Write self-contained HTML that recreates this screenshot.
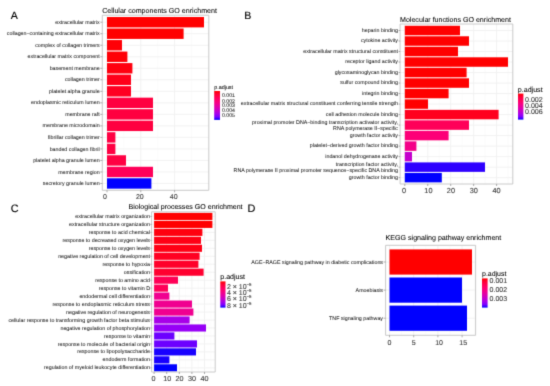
<!DOCTYPE html>
<html><head><meta charset="utf-8"><title>GO enrichment</title><style>html,body{margin:0;padding:0;background:#fff;width:550px;height:386px;overflow:hidden}svg{display:block}</style></head><body><div id="w">
<svg width="550" height="386" viewBox="0 0 550 386" font-family="'Liberation Sans', Arial, sans-serif" stroke-linejoin="round" text-rendering="geometricPrecision">
<defs><filter id="soft" x="0" y="0" width="1" height="1" color-interpolation-filters="sRGB"><feConvolveMatrix order="3" kernelMatrix="1 6 1 6 36 6 1 6 1" divisor="64" edgeMode="duplicate"/></filter></defs>
<g filter="url(#soft)">
<rect width="550" height="386" fill="#fff"/>
<line x1="123.90" y1="15.20" x2="123.90" y2="190.30" stroke="#f8f8f8" stroke-width="0.6"/>
<line x1="157.70" y1="15.20" x2="157.70" y2="190.30" stroke="#f8f8f8" stroke-width="0.6"/>
<line x1="191.50" y1="15.20" x2="191.50" y2="190.30" stroke="#f8f8f8" stroke-width="0.6"/>
<line x1="107.00" y1="15.20" x2="107.00" y2="190.30" stroke="#f1f1f1" stroke-width="0.9"/>
<line x1="140.80" y1="15.20" x2="140.80" y2="190.30" stroke="#f1f1f1" stroke-width="0.9"/>
<line x1="174.60" y1="15.20" x2="174.60" y2="190.30" stroke="#f1f1f1" stroke-width="0.9"/>
<line x1="102.30" y1="22.20" x2="208.80" y2="22.20" stroke="#f1f1f1" stroke-width="0.9"/>
<line x1="102.30" y1="33.72" x2="208.80" y2="33.72" stroke="#f1f1f1" stroke-width="0.9"/>
<line x1="102.30" y1="45.24" x2="208.80" y2="45.24" stroke="#f1f1f1" stroke-width="0.9"/>
<line x1="102.30" y1="56.76" x2="208.80" y2="56.76" stroke="#f1f1f1" stroke-width="0.9"/>
<line x1="102.30" y1="68.28" x2="208.80" y2="68.28" stroke="#f1f1f1" stroke-width="0.9"/>
<line x1="102.30" y1="79.80" x2="208.80" y2="79.80" stroke="#f1f1f1" stroke-width="0.9"/>
<line x1="102.30" y1="91.32" x2="208.80" y2="91.32" stroke="#f1f1f1" stroke-width="0.9"/>
<line x1="102.30" y1="102.84" x2="208.80" y2="102.84" stroke="#f1f1f1" stroke-width="0.9"/>
<line x1="102.30" y1="114.36" x2="208.80" y2="114.36" stroke="#f1f1f1" stroke-width="0.9"/>
<line x1="102.30" y1="125.88" x2="208.80" y2="125.88" stroke="#f1f1f1" stroke-width="0.9"/>
<line x1="102.30" y1="137.40" x2="208.80" y2="137.40" stroke="#f1f1f1" stroke-width="0.9"/>
<line x1="102.30" y1="148.92" x2="208.80" y2="148.92" stroke="#f1f1f1" stroke-width="0.9"/>
<line x1="102.30" y1="160.44" x2="208.80" y2="160.44" stroke="#f1f1f1" stroke-width="0.9"/>
<line x1="102.30" y1="171.96" x2="208.80" y2="171.96" stroke="#f1f1f1" stroke-width="0.9"/>
<line x1="102.30" y1="183.48" x2="208.80" y2="183.48" stroke="#f1f1f1" stroke-width="0.9"/>
<rect x="107.00" y="17.02" width="97.00" height="10.37" fill="#ff0000"/>
<rect x="107.00" y="28.54" width="76.60" height="10.37" fill="#ff0000"/>
<rect x="107.00" y="40.05" width="15.00" height="10.37" fill="#ff0007"/>
<rect x="107.00" y="51.58" width="20.40" height="10.37" fill="#ff0007"/>
<rect x="107.00" y="63.09" width="25.40" height="10.37" fill="#ff000f"/>
<rect x="107.00" y="74.61" width="24.00" height="10.37" fill="#ff001a"/>
<rect x="107.00" y="86.14" width="24.00" height="10.37" fill="#ff0022"/>
<rect x="107.00" y="97.66" width="46.00" height="10.37" fill="#ff0040"/>
<rect x="107.00" y="109.17" width="46.00" height="10.37" fill="#ff0040"/>
<rect x="107.00" y="120.69" width="46.00" height="10.37" fill="#ff0040"/>
<rect x="107.00" y="132.21" width="8.40" height="10.37" fill="#ff0043"/>
<rect x="107.00" y="143.73" width="8.40" height="10.37" fill="#ff0043"/>
<rect x="107.00" y="155.25" width="19.00" height="10.37" fill="#ff0043"/>
<rect x="107.00" y="166.77" width="46.00" height="10.37" fill="#ff0059"/>
<rect x="107.00" y="178.29" width="44.40" height="10.37" fill="#0000ff"/>
<rect x="102.30" y="15.20" width="106.50" height="175.10" fill="none" stroke="#c4c4c4" stroke-width="0.9"/>
<line x1="100.30" y1="22.20" x2="102.30" y2="22.20" stroke="#8a8a8a" stroke-width="0.7"/>
<text x="99.70" y="23.79" font-size="5.3" text-anchor="end" fill="#1a1a1a" stroke="#1a1a1a" stroke-width="0.05">extracellular matrix</text>
<line x1="100.30" y1="33.72" x2="102.30" y2="33.72" stroke="#8a8a8a" stroke-width="0.7"/>
<text x="99.70" y="35.31" font-size="5.3" text-anchor="end" fill="#1a1a1a" stroke="#1a1a1a" stroke-width="0.05">collagen−containing extracellular matrix</text>
<line x1="100.30" y1="45.24" x2="102.30" y2="45.24" stroke="#8a8a8a" stroke-width="0.7"/>
<text x="99.70" y="46.83" font-size="5.3" text-anchor="end" fill="#1a1a1a" stroke="#1a1a1a" stroke-width="0.05">complex of collagen trimers</text>
<line x1="100.30" y1="56.76" x2="102.30" y2="56.76" stroke="#8a8a8a" stroke-width="0.7"/>
<text x="99.70" y="58.35" font-size="5.3" text-anchor="end" fill="#1a1a1a" stroke="#1a1a1a" stroke-width="0.05">extracellular matrix component</text>
<line x1="100.30" y1="68.28" x2="102.30" y2="68.28" stroke="#8a8a8a" stroke-width="0.7"/>
<text x="99.70" y="69.87" font-size="5.3" text-anchor="end" fill="#1a1a1a" stroke="#1a1a1a" stroke-width="0.05">basement membrane</text>
<line x1="100.30" y1="79.80" x2="102.30" y2="79.80" stroke="#8a8a8a" stroke-width="0.7"/>
<text x="99.70" y="81.39" font-size="5.3" text-anchor="end" fill="#1a1a1a" stroke="#1a1a1a" stroke-width="0.05">collagen trimer</text>
<line x1="100.30" y1="91.32" x2="102.30" y2="91.32" stroke="#8a8a8a" stroke-width="0.7"/>
<text x="99.70" y="92.91" font-size="5.3" text-anchor="end" fill="#1a1a1a" stroke="#1a1a1a" stroke-width="0.05">platelet alpha granule</text>
<line x1="100.30" y1="102.84" x2="102.30" y2="102.84" stroke="#8a8a8a" stroke-width="0.7"/>
<text x="99.70" y="104.43" font-size="5.3" text-anchor="end" fill="#1a1a1a" stroke="#1a1a1a" stroke-width="0.05">endoplasmic reticulum lumen</text>
<line x1="100.30" y1="114.36" x2="102.30" y2="114.36" stroke="#8a8a8a" stroke-width="0.7"/>
<text x="99.70" y="115.95" font-size="5.3" text-anchor="end" fill="#1a1a1a" stroke="#1a1a1a" stroke-width="0.05">membrane raft</text>
<line x1="100.30" y1="125.88" x2="102.30" y2="125.88" stroke="#8a8a8a" stroke-width="0.7"/>
<text x="99.70" y="127.47" font-size="5.3" text-anchor="end" fill="#1a1a1a" stroke="#1a1a1a" stroke-width="0.05">membrane microdomain</text>
<line x1="100.30" y1="137.40" x2="102.30" y2="137.40" stroke="#8a8a8a" stroke-width="0.7"/>
<text x="99.70" y="138.99" font-size="5.3" text-anchor="end" fill="#1a1a1a" stroke="#1a1a1a" stroke-width="0.05">fibrillar collagen trimer</text>
<line x1="100.30" y1="148.92" x2="102.30" y2="148.92" stroke="#8a8a8a" stroke-width="0.7"/>
<text x="99.70" y="150.51" font-size="5.3" text-anchor="end" fill="#1a1a1a" stroke="#1a1a1a" stroke-width="0.05">banded collagen fibril</text>
<line x1="100.30" y1="160.44" x2="102.30" y2="160.44" stroke="#8a8a8a" stroke-width="0.7"/>
<text x="99.70" y="162.03" font-size="5.3" text-anchor="end" fill="#1a1a1a" stroke="#1a1a1a" stroke-width="0.05">platelet alpha granule lumen</text>
<line x1="100.30" y1="171.96" x2="102.30" y2="171.96" stroke="#8a8a8a" stroke-width="0.7"/>
<text x="99.70" y="173.55" font-size="5.3" text-anchor="end" fill="#1a1a1a" stroke="#1a1a1a" stroke-width="0.05">membrane region</text>
<line x1="100.30" y1="183.48" x2="102.30" y2="183.48" stroke="#8a8a8a" stroke-width="0.7"/>
<text x="99.70" y="185.07" font-size="5.3" text-anchor="end" fill="#1a1a1a" stroke="#1a1a1a" stroke-width="0.05">secretory granule lumen</text>
<line x1="107.00" y1="190.30" x2="107.00" y2="192.30" stroke="#8a8a8a" stroke-width="0.7"/>
<text x="105.00" y="198.60" font-size="7.0" text-anchor="middle" fill="#3d3d3d" stroke="#3d3d3d" stroke-width="0.12">0</text>
<line x1="140.80" y1="190.30" x2="140.80" y2="192.30" stroke="#8a8a8a" stroke-width="0.7"/>
<text x="139.80" y="198.60" font-size="7.0" text-anchor="middle" fill="#3d3d3d" stroke="#3d3d3d" stroke-width="0.12">20</text>
<line x1="174.60" y1="190.30" x2="174.60" y2="192.30" stroke="#8a8a8a" stroke-width="0.7"/>
<text x="173.70" y="198.60" font-size="7.0" text-anchor="middle" fill="#3d3d3d" stroke="#3d3d3d" stroke-width="0.12">40</text>
<text x="102.20" y="12.90" font-size="7.1" text-anchor="start" fill="#000" stroke="#000" stroke-width="0.06">Cellular components GO enrichment</text>
<text x="214.20" y="88.70" font-size="5.4" text-anchor="start" fill="#000" stroke="#000" stroke-width="0.06">p.adjust</text>
<linearGradient id="gA" x1="0" y1="0" x2="0" y2="1"><stop offset="0.0" stop-color="#ff0000"/><stop offset="0.1" stop-color="#ff0030"/><stop offset="0.2" stop-color="#ff004e"/><stop offset="0.3" stop-color="#ff0069"/><stop offset="0.4" stop-color="#f70083"/><stop offset="0.5" stop-color="#e8009d"/><stop offset="0.6" stop-color="#d500b7"/><stop offset="0.7" stop-color="#bf00d2"/><stop offset="0.8" stop-color="#a200ed"/><stop offset="0.9" stop-color="#7800ff"/><stop offset="1.0" stop-color="#0000ff"/></linearGradient>
<rect x="214.20" y="91.00" width="5.80" height="28.90" fill="url(#gA)"/>
<text x="222.00" y="97.37" font-size="5.2" text-anchor="start" fill="#3d3d3d" stroke="#3d3d3d" stroke-width="0.12">0.001</text>
<text x="222.00" y="102.57" font-size="5.2" text-anchor="start" fill="#3d3d3d" stroke="#3d3d3d" stroke-width="0.12">0.002</text>
<text x="222.00" y="107.07" font-size="5.2" text-anchor="start" fill="#3d3d3d" stroke="#3d3d3d" stroke-width="0.12">0.003</text>
<text x="222.00" y="111.87" font-size="5.2" text-anchor="start" fill="#3d3d3d" stroke="#3d3d3d" stroke-width="0.12">0.004</text>
<text x="222.00" y="116.57" font-size="5.2" text-anchor="start" fill="#3d3d3d" stroke="#3d3d3d" stroke-width="0.12">0.005</text>
<text x="10.80" y="18.90" font-size="10.6" text-anchor="start" fill="#000" stroke="#000" stroke-width="0.15">A</text>
<line x1="416.28" y1="24.00" x2="416.28" y2="184.00" stroke="#f8f8f8" stroke-width="0.6"/>
<line x1="439.23" y1="24.00" x2="439.23" y2="184.00" stroke="#f8f8f8" stroke-width="0.6"/>
<line x1="462.18" y1="24.00" x2="462.18" y2="184.00" stroke="#f8f8f8" stroke-width="0.6"/>
<line x1="485.12" y1="24.00" x2="485.12" y2="184.00" stroke="#f8f8f8" stroke-width="0.6"/>
<line x1="508.07" y1="24.00" x2="508.07" y2="184.00" stroke="#f8f8f8" stroke-width="0.6"/>
<line x1="404.80" y1="24.00" x2="404.80" y2="184.00" stroke="#f1f1f1" stroke-width="0.9"/>
<line x1="427.75" y1="24.00" x2="427.75" y2="184.00" stroke="#f1f1f1" stroke-width="0.9"/>
<line x1="450.70" y1="24.00" x2="450.70" y2="184.00" stroke="#f1f1f1" stroke-width="0.9"/>
<line x1="473.65" y1="24.00" x2="473.65" y2="184.00" stroke="#f1f1f1" stroke-width="0.9"/>
<line x1="496.60" y1="24.00" x2="496.60" y2="184.00" stroke="#f1f1f1" stroke-width="0.9"/>
<line x1="400.10" y1="30.50" x2="512.80" y2="30.50" stroke="#f1f1f1" stroke-width="0.9"/>
<line x1="400.10" y1="41.01" x2="512.80" y2="41.01" stroke="#f1f1f1" stroke-width="0.9"/>
<line x1="400.10" y1="51.52" x2="512.80" y2="51.52" stroke="#f1f1f1" stroke-width="0.9"/>
<line x1="400.10" y1="62.03" x2="512.80" y2="62.03" stroke="#f1f1f1" stroke-width="0.9"/>
<line x1="400.10" y1="72.54" x2="512.80" y2="72.54" stroke="#f1f1f1" stroke-width="0.9"/>
<line x1="400.10" y1="83.05" x2="512.80" y2="83.05" stroke="#f1f1f1" stroke-width="0.9"/>
<line x1="400.10" y1="93.56" x2="512.80" y2="93.56" stroke="#f1f1f1" stroke-width="0.9"/>
<line x1="400.10" y1="104.07" x2="512.80" y2="104.07" stroke="#f1f1f1" stroke-width="0.9"/>
<line x1="400.10" y1="114.58" x2="512.80" y2="114.58" stroke="#f1f1f1" stroke-width="0.9"/>
<line x1="400.10" y1="125.09" x2="512.80" y2="125.09" stroke="#f1f1f1" stroke-width="0.9"/>
<line x1="400.10" y1="135.60" x2="512.80" y2="135.60" stroke="#f1f1f1" stroke-width="0.9"/>
<line x1="400.10" y1="146.11" x2="512.80" y2="146.11" stroke="#f1f1f1" stroke-width="0.9"/>
<line x1="400.10" y1="156.62" x2="512.80" y2="156.62" stroke="#f1f1f1" stroke-width="0.9"/>
<line x1="400.10" y1="167.13" x2="512.80" y2="167.13" stroke="#f1f1f1" stroke-width="0.9"/>
<line x1="400.10" y1="177.64" x2="512.80" y2="177.64" stroke="#f1f1f1" stroke-width="0.9"/>
<rect x="404.80" y="25.77" width="55.20" height="9.46" fill="#ff0000"/>
<rect x="404.80" y="36.28" width="64.20" height="9.46" fill="#ff0000"/>
<rect x="404.80" y="46.79" width="53.20" height="9.46" fill="#ff0000"/>
<rect x="404.80" y="57.30" width="103.20" height="9.46" fill="#ff0000"/>
<rect x="404.80" y="67.81" width="61.80" height="9.46" fill="#ff0000"/>
<rect x="404.80" y="78.32" width="64.20" height="9.46" fill="#ff0000"/>
<rect x="404.80" y="88.83" width="43.80" height="9.46" fill="#ff0000"/>
<rect x="404.80" y="99.34" width="23.20" height="9.46" fill="#ff0000"/>
<rect x="404.80" y="109.85" width="93.80" height="9.46" fill="#ff001e"/>
<rect x="404.80" y="120.36" width="64.20" height="9.46" fill="#ff0059"/>
<rect x="404.80" y="130.87" width="43.80" height="9.46" fill="#fd0078"/>
<rect x="404.80" y="141.38" width="11.60" height="9.46" fill="#f40088"/>
<rect x="404.80" y="151.89" width="7.20" height="9.46" fill="#c400cd"/>
<rect x="404.80" y="162.40" width="80.20" height="9.46" fill="#2e00ff"/>
<rect x="404.80" y="172.91" width="37.00" height="9.46" fill="#0000ff"/>
<rect x="400.10" y="24.00" width="112.70" height="160.00" fill="none" stroke="#c4c4c4" stroke-width="0.9"/>
<line x1="398.60" y1="30.50" x2="400.10" y2="30.50" stroke="#8a8a8a" stroke-width="0.7"/>
<text x="398.00" y="31.69" font-size="5.3" text-anchor="end" fill="#1a1a1a" stroke="#1a1a1a" stroke-width="0.05">heparin binding</text>
<line x1="398.60" y1="41.01" x2="400.10" y2="41.01" stroke="#8a8a8a" stroke-width="0.7"/>
<text x="398.00" y="42.20" font-size="5.3" text-anchor="end" fill="#1a1a1a" stroke="#1a1a1a" stroke-width="0.05">cytokine activity</text>
<line x1="398.60" y1="51.52" x2="400.10" y2="51.52" stroke="#8a8a8a" stroke-width="0.7"/>
<text x="398.00" y="52.71" font-size="5.3" text-anchor="end" fill="#1a1a1a" stroke="#1a1a1a" stroke-width="0.05">extracellular matrix structural constituent</text>
<line x1="398.60" y1="62.03" x2="400.10" y2="62.03" stroke="#8a8a8a" stroke-width="0.7"/>
<text x="398.00" y="63.22" font-size="5.3" text-anchor="end" fill="#1a1a1a" stroke="#1a1a1a" stroke-width="0.05">receptor ligand activity</text>
<line x1="398.60" y1="72.54" x2="400.10" y2="72.54" stroke="#8a8a8a" stroke-width="0.7"/>
<text x="398.00" y="73.73" font-size="5.3" text-anchor="end" fill="#1a1a1a" stroke="#1a1a1a" stroke-width="0.05">glycosaminoglycan binding</text>
<line x1="398.60" y1="83.05" x2="400.10" y2="83.05" stroke="#8a8a8a" stroke-width="0.7"/>
<text x="398.00" y="84.24" font-size="5.3" text-anchor="end" fill="#1a1a1a" stroke="#1a1a1a" stroke-width="0.05">sulfur compound binding</text>
<line x1="398.60" y1="93.56" x2="400.10" y2="93.56" stroke="#8a8a8a" stroke-width="0.7"/>
<text x="398.00" y="94.75" font-size="5.3" text-anchor="end" fill="#1a1a1a" stroke="#1a1a1a" stroke-width="0.05">integrin binding</text>
<line x1="398.60" y1="104.07" x2="400.10" y2="104.07" stroke="#8a8a8a" stroke-width="0.7"/>
<text x="398.00" y="105.26" font-size="5.3" text-anchor="end" fill="#1a1a1a" stroke="#1a1a1a" stroke-width="0.05">extracellular matrix structural constituent conferring tensile strength</text>
<line x1="398.60" y1="114.58" x2="400.10" y2="114.58" stroke="#8a8a8a" stroke-width="0.7"/>
<text x="398.00" y="115.77" font-size="5.3" text-anchor="end" fill="#1a1a1a" stroke="#1a1a1a" stroke-width="0.05">cell adhesion molecule binding</text>
<line x1="398.60" y1="125.09" x2="400.10" y2="125.09" stroke="#8a8a8a" stroke-width="0.7"/>
<text x="398.00" y="124.20" font-size="5.3" text-anchor="end" fill="#1a1a1a" stroke="#1a1a1a" stroke-width="0.05">proximal promoter DNA−binding transcription activator activity,</text>
<text x="398.00" y="129.80" font-size="5.3" text-anchor="end" fill="#1a1a1a" stroke="#1a1a1a" stroke-width="0.05">RNA polymerase II−specific</text>
<line x1="398.60" y1="135.60" x2="400.10" y2="135.60" stroke="#8a8a8a" stroke-width="0.7"/>
<text x="398.00" y="136.79" font-size="5.3" text-anchor="end" fill="#1a1a1a" stroke="#1a1a1a" stroke-width="0.05">growth factor activity</text>
<line x1="398.60" y1="146.11" x2="400.10" y2="146.11" stroke="#8a8a8a" stroke-width="0.7"/>
<text x="398.00" y="147.30" font-size="5.3" text-anchor="end" fill="#1a1a1a" stroke="#1a1a1a" stroke-width="0.05">platelet−derived growth factor binding</text>
<line x1="398.60" y1="156.62" x2="400.10" y2="156.62" stroke="#8a8a8a" stroke-width="0.7"/>
<text x="398.00" y="157.81" font-size="5.3" text-anchor="end" fill="#1a1a1a" stroke="#1a1a1a" stroke-width="0.05">indanol dehydrogenase activity</text>
<line x1="398.60" y1="167.13" x2="400.10" y2="167.13" stroke="#8a8a8a" stroke-width="0.7"/>
<text x="398.00" y="166.24" font-size="5.3" text-anchor="end" fill="#1a1a1a" stroke="#1a1a1a" stroke-width="0.05">transcription factor activity,</text>
<text x="398.00" y="171.84" font-size="5.3" text-anchor="end" fill="#1a1a1a" stroke="#1a1a1a" stroke-width="0.05">RNA polymerase II proximal promoter sequence−specific DNA binding</text>
<line x1="398.60" y1="177.64" x2="400.10" y2="177.64" stroke="#8a8a8a" stroke-width="0.7"/>
<text x="398.00" y="178.83" font-size="5.3" text-anchor="end" fill="#1a1a1a" stroke="#1a1a1a" stroke-width="0.05">growth factor binding</text>
<line x1="404.80" y1="184.00" x2="404.80" y2="186.00" stroke="#8a8a8a" stroke-width="0.7"/>
<text x="404.10" y="193.40" font-size="7.3" text-anchor="middle" fill="#3d3d3d" stroke="#3d3d3d" stroke-width="0.12">0</text>
<line x1="427.75" y1="184.00" x2="427.75" y2="186.00" stroke="#8a8a8a" stroke-width="0.7"/>
<text x="428.40" y="193.40" font-size="7.3" text-anchor="middle" fill="#3d3d3d" stroke="#3d3d3d" stroke-width="0.12">10</text>
<line x1="450.70" y1="184.00" x2="450.70" y2="186.00" stroke="#8a8a8a" stroke-width="0.7"/>
<text x="450.90" y="193.40" font-size="7.3" text-anchor="middle" fill="#3d3d3d" stroke="#3d3d3d" stroke-width="0.12">20</text>
<line x1="473.65" y1="184.00" x2="473.65" y2="186.00" stroke="#8a8a8a" stroke-width="0.7"/>
<text x="473.80" y="193.40" font-size="7.3" text-anchor="middle" fill="#3d3d3d" stroke="#3d3d3d" stroke-width="0.12">30</text>
<line x1="496.60" y1="184.00" x2="496.60" y2="186.00" stroke="#8a8a8a" stroke-width="0.7"/>
<text x="496.60" y="193.40" font-size="7.3" text-anchor="middle" fill="#3d3d3d" stroke="#3d3d3d" stroke-width="0.12">40</text>
<text x="400.00" y="22.40" font-size="7.08" text-anchor="start" fill="#000" stroke="#000" stroke-width="0.06">Molecular functions GO enrichment</text>
<text x="517.80" y="91.70" font-size="7.1" text-anchor="start" fill="#000" stroke="#000" stroke-width="0.06">p.adjust</text>
<linearGradient id="gB" x1="0" y1="0" x2="0" y2="1"><stop offset="0.0" stop-color="#ff0000"/><stop offset="0.1" stop-color="#ff0030"/><stop offset="0.2" stop-color="#ff004e"/><stop offset="0.3" stop-color="#ff0069"/><stop offset="0.4" stop-color="#f70083"/><stop offset="0.5" stop-color="#e8009d"/><stop offset="0.6" stop-color="#d500b7"/><stop offset="0.7" stop-color="#bf00d2"/><stop offset="0.8" stop-color="#a200ed"/><stop offset="0.9" stop-color="#7800ff"/><stop offset="1.0" stop-color="#0000ff"/></linearGradient>
<rect x="518.00" y="93.60" width="5.40" height="26.00" fill="url(#gB)"/>
<text x="525.00" y="101.76" font-size="7.1" text-anchor="start" fill="#3d3d3d" stroke="#3d3d3d" stroke-width="0.12">0.002</text>
<text x="525.00" y="107.96" font-size="7.1" text-anchor="start" fill="#3d3d3d" stroke="#3d3d3d" stroke-width="0.12">0.004</text>
<text x="525.00" y="114.06" font-size="7.1" text-anchor="start" fill="#3d3d3d" stroke="#3d3d3d" stroke-width="0.12">0.006</text>
<text x="244.30" y="19.00" font-size="10.6" text-anchor="start" fill="#000" stroke="#000" stroke-width="0.15">B</text>
<line x1="160.40" y1="211.80" x2="160.40" y2="372.00" stroke="#f8f8f8" stroke-width="0.6"/>
<line x1="173.00" y1="211.80" x2="173.00" y2="372.00" stroke="#f8f8f8" stroke-width="0.6"/>
<line x1="185.60" y1="211.80" x2="185.60" y2="372.00" stroke="#f8f8f8" stroke-width="0.6"/>
<line x1="198.20" y1="211.80" x2="198.20" y2="372.00" stroke="#f8f8f8" stroke-width="0.6"/>
<line x1="210.80" y1="211.80" x2="210.80" y2="372.00" stroke="#f8f8f8" stroke-width="0.6"/>
<line x1="154.10" y1="211.80" x2="154.10" y2="372.00" stroke="#f1f1f1" stroke-width="0.9"/>
<line x1="166.70" y1="211.80" x2="166.70" y2="372.00" stroke="#f1f1f1" stroke-width="0.9"/>
<line x1="179.30" y1="211.80" x2="179.30" y2="372.00" stroke="#f1f1f1" stroke-width="0.9"/>
<line x1="191.90" y1="211.80" x2="191.90" y2="372.00" stroke="#f1f1f1" stroke-width="0.9"/>
<line x1="204.50" y1="211.80" x2="204.50" y2="372.00" stroke="#f1f1f1" stroke-width="0.9"/>
<line x1="151.60" y1="216.40" x2="215.20" y2="216.40" stroke="#f1f1f1" stroke-width="0.9"/>
<line x1="151.60" y1="224.37" x2="215.20" y2="224.37" stroke="#f1f1f1" stroke-width="0.9"/>
<line x1="151.60" y1="232.34" x2="215.20" y2="232.34" stroke="#f1f1f1" stroke-width="0.9"/>
<line x1="151.60" y1="240.31" x2="215.20" y2="240.31" stroke="#f1f1f1" stroke-width="0.9"/>
<line x1="151.60" y1="248.28" x2="215.20" y2="248.28" stroke="#f1f1f1" stroke-width="0.9"/>
<line x1="151.60" y1="256.25" x2="215.20" y2="256.25" stroke="#f1f1f1" stroke-width="0.9"/>
<line x1="151.60" y1="264.22" x2="215.20" y2="264.22" stroke="#f1f1f1" stroke-width="0.9"/>
<line x1="151.60" y1="272.19" x2="215.20" y2="272.19" stroke="#f1f1f1" stroke-width="0.9"/>
<line x1="151.60" y1="280.16" x2="215.20" y2="280.16" stroke="#f1f1f1" stroke-width="0.9"/>
<line x1="151.60" y1="288.13" x2="215.20" y2="288.13" stroke="#f1f1f1" stroke-width="0.9"/>
<line x1="151.60" y1="296.10" x2="215.20" y2="296.10" stroke="#f1f1f1" stroke-width="0.9"/>
<line x1="151.60" y1="304.07" x2="215.20" y2="304.07" stroke="#f1f1f1" stroke-width="0.9"/>
<line x1="151.60" y1="312.04" x2="215.20" y2="312.04" stroke="#f1f1f1" stroke-width="0.9"/>
<line x1="151.60" y1="320.01" x2="215.20" y2="320.01" stroke="#f1f1f1" stroke-width="0.9"/>
<line x1="151.60" y1="327.98" x2="215.20" y2="327.98" stroke="#f1f1f1" stroke-width="0.9"/>
<line x1="151.60" y1="335.95" x2="215.20" y2="335.95" stroke="#f1f1f1" stroke-width="0.9"/>
<line x1="151.60" y1="343.92" x2="215.20" y2="343.92" stroke="#f1f1f1" stroke-width="0.9"/>
<line x1="151.60" y1="351.89" x2="215.20" y2="351.89" stroke="#f1f1f1" stroke-width="0.9"/>
<line x1="151.60" y1="359.86" x2="215.20" y2="359.86" stroke="#f1f1f1" stroke-width="0.9"/>
<line x1="151.60" y1="367.83" x2="215.20" y2="367.83" stroke="#f1f1f1" stroke-width="0.9"/>
<rect x="154.10" y="212.85" width="58.30" height="7.10" fill="#ff0000"/>
<rect x="154.10" y="220.82" width="58.30" height="7.10" fill="#ff0000"/>
<rect x="154.10" y="228.79" width="48.30" height="7.10" fill="#ff000f"/>
<rect x="154.10" y="236.76" width="46.90" height="7.10" fill="#ff0015"/>
<rect x="154.10" y="244.73" width="47.90" height="7.10" fill="#ff0015"/>
<rect x="154.10" y="252.70" width="45.50" height="7.10" fill="#ff0022"/>
<rect x="154.10" y="260.67" width="44.30" height="7.10" fill="#ff002a"/>
<rect x="154.10" y="268.64" width="49.50" height="7.10" fill="#ff0030"/>
<rect x="154.10" y="276.61" width="23.90" height="7.10" fill="#ff0056"/>
<rect x="154.10" y="284.58" width="13.90" height="7.10" fill="#ff0059"/>
<rect x="154.10" y="292.55" width="15.30" height="7.10" fill="#f00090"/>
<rect x="154.10" y="300.52" width="37.90" height="7.10" fill="#f00090"/>
<rect x="154.10" y="308.49" width="39.30" height="7.10" fill="#f00090"/>
<rect x="154.10" y="316.46" width="35.50" height="7.10" fill="#a800e8"/>
<rect x="154.10" y="324.43" width="51.90" height="7.10" fill="#9700f6"/>
<rect x="154.10" y="332.40" width="20.30" height="7.10" fill="#6c00ff"/>
<rect x="154.10" y="340.37" width="42.90" height="7.10" fill="#6c00ff"/>
<rect x="154.10" y="348.34" width="41.90" height="7.10" fill="#1800ff"/>
<rect x="154.10" y="356.31" width="15.30" height="7.10" fill="#1800ff"/>
<rect x="154.10" y="364.28" width="22.90" height="7.10" fill="#0000ff"/>
<rect x="151.60" y="211.80" width="63.60" height="160.20" fill="none" stroke="#c4c4c4" stroke-width="0.9"/>
<line x1="150.30" y1="216.40" x2="151.60" y2="216.40" stroke="#8a8a8a" stroke-width="0.7"/>
<text x="150.00" y="217.99" font-size="5.3" text-anchor="end" fill="#1a1a1a" stroke="#1a1a1a" stroke-width="0.05">extracellular matrix organization</text>
<line x1="150.30" y1="224.37" x2="151.60" y2="224.37" stroke="#8a8a8a" stroke-width="0.7"/>
<text x="150.00" y="225.96" font-size="5.3" text-anchor="end" fill="#1a1a1a" stroke="#1a1a1a" stroke-width="0.05">extracellular structure organization</text>
<line x1="150.30" y1="232.34" x2="151.60" y2="232.34" stroke="#8a8a8a" stroke-width="0.7"/>
<text x="150.00" y="233.93" font-size="5.3" text-anchor="end" fill="#1a1a1a" stroke="#1a1a1a" stroke-width="0.05">response to acid chemical</text>
<line x1="150.30" y1="240.31" x2="151.60" y2="240.31" stroke="#8a8a8a" stroke-width="0.7"/>
<text x="150.00" y="241.90" font-size="5.3" text-anchor="end" fill="#1a1a1a" stroke="#1a1a1a" stroke-width="0.05">response to decreased oxygen levels</text>
<line x1="150.30" y1="248.28" x2="151.60" y2="248.28" stroke="#8a8a8a" stroke-width="0.7"/>
<text x="150.00" y="249.87" font-size="5.3" text-anchor="end" fill="#1a1a1a" stroke="#1a1a1a" stroke-width="0.05">response to oxygen levels</text>
<line x1="150.30" y1="256.25" x2="151.60" y2="256.25" stroke="#8a8a8a" stroke-width="0.7"/>
<text x="150.00" y="257.84" font-size="5.3" text-anchor="end" fill="#1a1a1a" stroke="#1a1a1a" stroke-width="0.05">negative regulation of cell development</text>
<line x1="150.30" y1="264.22" x2="151.60" y2="264.22" stroke="#8a8a8a" stroke-width="0.7"/>
<text x="150.00" y="265.81" font-size="5.3" text-anchor="end" fill="#1a1a1a" stroke="#1a1a1a" stroke-width="0.05">response to hypoxia</text>
<line x1="150.30" y1="272.19" x2="151.60" y2="272.19" stroke="#8a8a8a" stroke-width="0.7"/>
<text x="150.00" y="273.78" font-size="5.3" text-anchor="end" fill="#1a1a1a" stroke="#1a1a1a" stroke-width="0.05">ossification</text>
<line x1="150.30" y1="280.16" x2="151.60" y2="280.16" stroke="#8a8a8a" stroke-width="0.7"/>
<text x="150.00" y="281.75" font-size="5.3" text-anchor="end" fill="#1a1a1a" stroke="#1a1a1a" stroke-width="0.05">response to amino acid</text>
<line x1="150.30" y1="288.13" x2="151.60" y2="288.13" stroke="#8a8a8a" stroke-width="0.7"/>
<text x="150.00" y="289.72" font-size="5.3" text-anchor="end" fill="#1a1a1a" stroke="#1a1a1a" stroke-width="0.05">response to vitamin D</text>
<line x1="150.30" y1="296.10" x2="151.60" y2="296.10" stroke="#8a8a8a" stroke-width="0.7"/>
<text x="150.00" y="297.69" font-size="5.3" text-anchor="end" fill="#1a1a1a" stroke="#1a1a1a" stroke-width="0.05">endodermal cell differentiation</text>
<line x1="150.30" y1="304.07" x2="151.60" y2="304.07" stroke="#8a8a8a" stroke-width="0.7"/>
<text x="150.00" y="305.66" font-size="5.3" text-anchor="end" fill="#1a1a1a" stroke="#1a1a1a" stroke-width="0.05">response to endoplasmic reticulum stress</text>
<line x1="150.30" y1="312.04" x2="151.60" y2="312.04" stroke="#8a8a8a" stroke-width="0.7"/>
<text x="150.00" y="313.63" font-size="5.3" text-anchor="end" fill="#1a1a1a" stroke="#1a1a1a" stroke-width="0.05">negative regulation of neurogenesis</text>
<line x1="150.30" y1="320.01" x2="151.60" y2="320.01" stroke="#8a8a8a" stroke-width="0.7"/>
<text x="150.00" y="321.60" font-size="5.3" text-anchor="end" fill="#1a1a1a" stroke="#1a1a1a" stroke-width="0.05">cellular response to transforming growth factor beta stimulus</text>
<line x1="150.30" y1="327.98" x2="151.60" y2="327.98" stroke="#8a8a8a" stroke-width="0.7"/>
<text x="150.00" y="329.57" font-size="5.3" text-anchor="end" fill="#1a1a1a" stroke="#1a1a1a" stroke-width="0.05">negative regulation of phosphorylation</text>
<line x1="150.30" y1="335.95" x2="151.60" y2="335.95" stroke="#8a8a8a" stroke-width="0.7"/>
<text x="150.00" y="337.54" font-size="5.3" text-anchor="end" fill="#1a1a1a" stroke="#1a1a1a" stroke-width="0.05">response to vitamin</text>
<line x1="150.30" y1="343.92" x2="151.60" y2="343.92" stroke="#8a8a8a" stroke-width="0.7"/>
<text x="150.00" y="345.51" font-size="5.3" text-anchor="end" fill="#1a1a1a" stroke="#1a1a1a" stroke-width="0.05">response to molecule of bacterial origin</text>
<line x1="150.30" y1="351.89" x2="151.60" y2="351.89" stroke="#8a8a8a" stroke-width="0.7"/>
<text x="150.00" y="353.48" font-size="5.3" text-anchor="end" fill="#1a1a1a" stroke="#1a1a1a" stroke-width="0.05">response to lipopolysaccharide</text>
<line x1="150.30" y1="359.86" x2="151.60" y2="359.86" stroke="#8a8a8a" stroke-width="0.7"/>
<text x="150.00" y="361.45" font-size="5.3" text-anchor="end" fill="#1a1a1a" stroke="#1a1a1a" stroke-width="0.05">endoderm formation</text>
<line x1="150.30" y1="367.83" x2="151.60" y2="367.83" stroke="#8a8a8a" stroke-width="0.7"/>
<text x="150.00" y="369.42" font-size="5.3" text-anchor="end" fill="#1a1a1a" stroke="#1a1a1a" stroke-width="0.05">regulation of myeloid leukocyte differentiation</text>
<line x1="154.10" y1="372.00" x2="154.10" y2="374.00" stroke="#8a8a8a" stroke-width="0.7"/>
<text x="153.40" y="381.30" font-size="7.2" text-anchor="middle" fill="#3d3d3d" stroke="#3d3d3d" stroke-width="0.12">0</text>
<line x1="166.70" y1="372.00" x2="166.70" y2="374.00" stroke="#8a8a8a" stroke-width="0.7"/>
<text x="167.30" y="381.30" font-size="7.2" text-anchor="middle" fill="#3d3d3d" stroke="#3d3d3d" stroke-width="0.12">10</text>
<line x1="179.30" y1="372.00" x2="179.30" y2="374.00" stroke="#8a8a8a" stroke-width="0.7"/>
<text x="179.50" y="381.30" font-size="7.2" text-anchor="middle" fill="#3d3d3d" stroke="#3d3d3d" stroke-width="0.12">20</text>
<line x1="191.90" y1="372.00" x2="191.90" y2="374.00" stroke="#8a8a8a" stroke-width="0.7"/>
<text x="192.00" y="381.30" font-size="7.2" text-anchor="middle" fill="#3d3d3d" stroke="#3d3d3d" stroke-width="0.12">30</text>
<line x1="204.50" y1="372.00" x2="204.50" y2="374.00" stroke="#8a8a8a" stroke-width="0.7"/>
<text x="204.60" y="381.30" font-size="7.2" text-anchor="middle" fill="#3d3d3d" stroke="#3d3d3d" stroke-width="0.12">40</text>
<text x="128.60" y="208.50" font-size="7.05" text-anchor="start" fill="#000" stroke="#000" stroke-width="0.06">Biological processes GO enrichment</text>
<text x="220.30" y="278.70" font-size="7.05" text-anchor="start" fill="#000" stroke="#000" stroke-width="0.06">p.adjust</text>
<linearGradient id="gC" x1="0" y1="0" x2="0" y2="1"><stop offset="0.0" stop-color="#ff0000"/><stop offset="0.1" stop-color="#ff0030"/><stop offset="0.2" stop-color="#ff004e"/><stop offset="0.3" stop-color="#ff0069"/><stop offset="0.4" stop-color="#f70083"/><stop offset="0.5" stop-color="#e8009d"/><stop offset="0.6" stop-color="#d500b7"/><stop offset="0.7" stop-color="#bf00d2"/><stop offset="0.8" stop-color="#a200ed"/><stop offset="0.9" stop-color="#7800ff"/><stop offset="1.0" stop-color="#0000ff"/></linearGradient>
<rect x="220.30" y="281.40" width="5.20" height="26.20" fill="url(#gC)"/>
<text x="226.90" y="289.12" font-size="7.0" fill="#3d3d3d" stroke="#3d3d3d" stroke-width="0.12">2 × 10<tspan font-size="4.34" dy="-2.94">−5</tspan></text>
<text x="226.90" y="295.22" font-size="7.0" fill="#3d3d3d" stroke="#3d3d3d" stroke-width="0.12">4 × 10<tspan font-size="4.34" dy="-2.94">−5</tspan></text>
<text x="226.90" y="301.42" font-size="7.0" fill="#3d3d3d" stroke="#3d3d3d" stroke-width="0.12">6 × 10<tspan font-size="4.34" dy="-2.94">−5</tspan></text>
<text x="226.90" y="307.82" font-size="7.0" fill="#3d3d3d" stroke="#3d3d3d" stroke-width="0.12">8 × 10<tspan font-size="4.34" dy="-2.94">−5</tspan></text>
<text x="10.80" y="212.00" font-size="10.8" text-anchor="start" fill="#000" stroke="#000" stroke-width="0.15">C</text>
<line x1="401.60" y1="245.30" x2="401.60" y2="335.30" stroke="#f8f8f8" stroke-width="0.6"/>
<line x1="425.80" y1="245.30" x2="425.80" y2="335.30" stroke="#f8f8f8" stroke-width="0.6"/>
<line x1="450.00" y1="245.30" x2="450.00" y2="335.30" stroke="#f8f8f8" stroke-width="0.6"/>
<line x1="474.20" y1="245.30" x2="474.20" y2="335.30" stroke="#f8f8f8" stroke-width="0.6"/>
<line x1="389.50" y1="245.30" x2="389.50" y2="335.30" stroke="#f1f1f1" stroke-width="0.9"/>
<line x1="413.70" y1="245.30" x2="413.70" y2="335.30" stroke="#f1f1f1" stroke-width="0.9"/>
<line x1="437.90" y1="245.30" x2="437.90" y2="335.30" stroke="#f1f1f1" stroke-width="0.9"/>
<line x1="462.10" y1="245.30" x2="462.10" y2="335.30" stroke="#f1f1f1" stroke-width="0.9"/>
<line x1="385.60" y1="262.00" x2="475.60" y2="262.00" stroke="#f1f1f1" stroke-width="0.9"/>
<line x1="385.60" y1="290.10" x2="475.60" y2="290.10" stroke="#f1f1f1" stroke-width="0.9"/>
<line x1="385.60" y1="318.20" x2="475.60" y2="318.20" stroke="#f1f1f1" stroke-width="0.9"/>
<rect x="389.50" y="249.40" width="82.50" height="25.20" fill="#ff0000"/>
<rect x="389.50" y="277.50" width="72.50" height="25.20" fill="#0000ff"/>
<rect x="389.50" y="305.60" width="77.50" height="25.20" fill="#0000ff"/>
<rect x="385.60" y="245.30" width="90.00" height="90.00" fill="none" stroke="#c4c4c4" stroke-width="0.9"/>
<line x1="383.60" y1="262.00" x2="385.60" y2="262.00" stroke="#8a8a8a" stroke-width="0.7"/>
<text x="383.00" y="263.59" font-size="5.3" text-anchor="end" fill="#1a1a1a" stroke="#1a1a1a" stroke-width="0.05">AGE−RAGE signaling pathway in diabetic complications</text>
<line x1="383.60" y1="290.10" x2="385.60" y2="290.10" stroke="#8a8a8a" stroke-width="0.7"/>
<text x="383.00" y="291.69" font-size="5.3" text-anchor="end" fill="#1a1a1a" stroke="#1a1a1a" stroke-width="0.05">Amoebiasis</text>
<line x1="383.60" y1="318.20" x2="385.60" y2="318.20" stroke="#8a8a8a" stroke-width="0.7"/>
<text x="383.00" y="319.79" font-size="5.3" text-anchor="end" fill="#1a1a1a" stroke="#1a1a1a" stroke-width="0.05">TNF signaling pathway</text>
<line x1="389.50" y1="335.30" x2="389.50" y2="337.30" stroke="#8a8a8a" stroke-width="0.7"/>
<text x="389.40" y="344.90" font-size="7" text-anchor="middle" fill="#3d3d3d" stroke="#3d3d3d" stroke-width="0.12">0</text>
<line x1="413.70" y1="335.30" x2="413.70" y2="337.30" stroke="#8a8a8a" stroke-width="0.7"/>
<text x="413.70" y="344.90" font-size="7" text-anchor="middle" fill="#3d3d3d" stroke="#3d3d3d" stroke-width="0.12">5</text>
<line x1="437.90" y1="335.30" x2="437.90" y2="337.30" stroke="#8a8a8a" stroke-width="0.7"/>
<text x="439.10" y="344.90" font-size="7" text-anchor="middle" fill="#3d3d3d" stroke="#3d3d3d" stroke-width="0.12">10</text>
<line x1="462.10" y1="335.30" x2="462.10" y2="337.30" stroke="#8a8a8a" stroke-width="0.7"/>
<text x="463.20" y="344.90" font-size="7" text-anchor="middle" fill="#3d3d3d" stroke="#3d3d3d" stroke-width="0.12">15</text>
<text x="385.60" y="240.10" font-size="7.09" text-anchor="start" fill="#000" stroke="#000" stroke-width="0.06">KEGG signaling pathway enrichment</text>
<text x="482.00" y="275.80" font-size="6.97" text-anchor="start" fill="#000" stroke="#000" stroke-width="0.06">p.adjust</text>
<linearGradient id="gD" x1="0" y1="0" x2="0" y2="1"><stop offset="0.0" stop-color="#ff0000"/><stop offset="0.1" stop-color="#ff0030"/><stop offset="0.2" stop-color="#ff004e"/><stop offset="0.3" stop-color="#ff0069"/><stop offset="0.4" stop-color="#f70083"/><stop offset="0.5" stop-color="#e8009d"/><stop offset="0.6" stop-color="#d500b7"/><stop offset="0.7" stop-color="#bf00d2"/><stop offset="0.8" stop-color="#a200ed"/><stop offset="0.9" stop-color="#7800ff"/><stop offset="1.0" stop-color="#0000ff"/></linearGradient>
<rect x="482.00" y="278.40" width="5.60" height="29.20" fill="url(#gD)"/>
<text x="489.60" y="282.92" font-size="7.0" text-anchor="start" fill="#3d3d3d" stroke="#3d3d3d" stroke-width="0.12">0.001</text>
<text x="489.60" y="291.92" font-size="7.0" text-anchor="start" fill="#3d3d3d" stroke="#3d3d3d" stroke-width="0.12">0.002</text>
<text x="489.60" y="300.52" font-size="7.0" text-anchor="start" fill="#3d3d3d" stroke="#3d3d3d" stroke-width="0.12">0.003</text>
<text x="247.60" y="211.90" font-size="10.9" text-anchor="start" fill="#000" stroke="#000" stroke-width="0.15">D</text>
</g></svg>
</div></body></html>
